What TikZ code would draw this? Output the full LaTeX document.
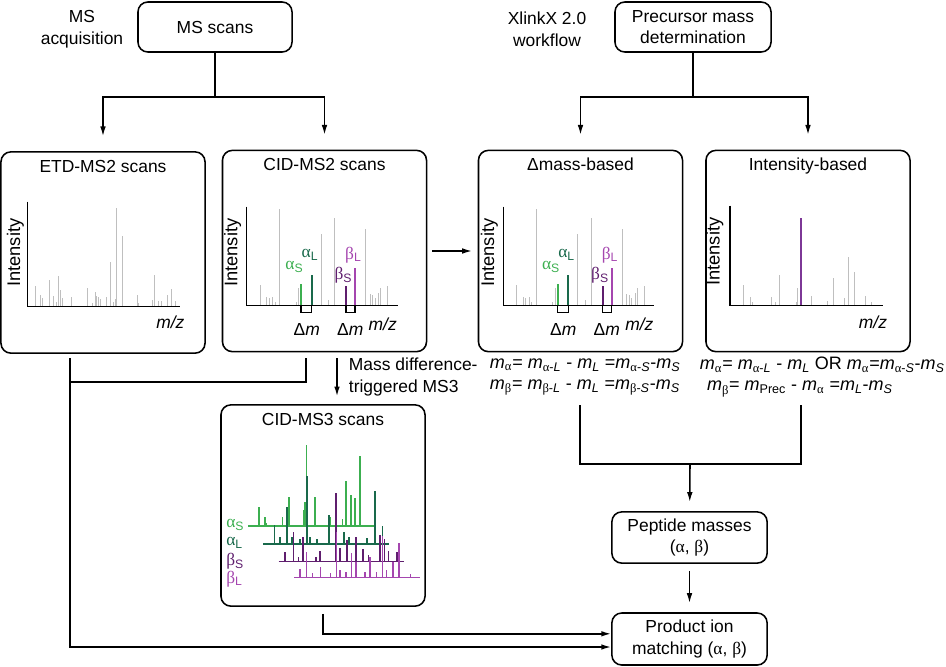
\documentclass[tikz,border=0pt]{standalone}
\usepackage{fontspec}
\setmainfont{Liberation Sans}
\newfontfamily\grk{Liberation Serif}
\usetikzlibrary{positioning,arrows.meta,calc}

\definecolor{alS}{RGB}{60,175,80}
\definecolor{alL}{RGB}{25,105,75}
\definecolor{beS}{RGB}{95,30,110}
\definecolor{beL}{RGB}{165,70,175}
\definecolor{intp}{RGB}{125,55,150}

\newcommand{\galpha}{{\grk α}}
\newcommand{\gbeta}{{\grk β}}
\newcommand{\massof}[1]{\textit{m}\textsubscript{#1}}

\tikzset{
	box/.style={rectangle,rounded corners=7pt,draw,line width=1.1pt,align=center},
	bigbox/.style={box,minimum width=5.1cm,minimum height=5.03cm},
	boxtitle/.style={inner sep=3pt},
	ylabel/.style={rotate=90,font=\fontsize{13}{15}\selectfont},
	eqtext/.style={anchor=west,align=left,font=\fontsize{12.8}{15}\selectfont},
	link/.style={line width=1.1pt},
	arr/.style={link,-{Latex[length=7pt,width=4pt]}},
	axis/.style={line width=1.1pt},
	peak/.style={gray!50,line width=0.6pt},
	cpeak/.style={line width=1.3pt},
	tpeak/.style={line width=1.2pt}
}

% spectrum shared by the CID-MS2 and the Delta-mass panels
\newcommand{\dmspectrum}[1]{%
	\foreach \x/\h in {13.3/20.7,20/9,22.3/7.3,25.7/8.3,28.3/4,32.7/96.3,49.3/4,51.7/17.3,
		74.3/71.7,81.7/5.7,87.7/87.3,119/76.3,123.3/11.7,125.7/10.7,128.3/7.3,131.7/12.3,134/17.3,141/20}
		\draw[peak] (\x,0) -- (\x,\h);
	\draw[cpeak,alS] (54.3,0) -- (54.3,21.7);
	\draw[cpeak,alL] (65,0) -- (65,30.7);
	\draw[cpeak,beS] (99.3,0) -- (99.3,20);
	\draw[cpeak,beL] (108.3,0) -- (108.3,37.3);
	\draw[axis] (0,99) -- (0,0) -- (151,0);
	\draw[line width=0.9pt] (54.3,0) -- (54.3,-7) -- (65,-7) -- (65,0);
	\draw[line width=0.9pt] (99.3,0) -- (99.3,-7) -- (108.3,-7) -- (108.3,0);
	\node[alS] (#1as) at (47.7,39) {\galpha\textsubscript{S}};
	\node[alL] (#1al) at (63.3,50.7) {\galpha\textsubscript{L}};
	\node[beS] (#1bs) at (96.7,30.7) {\gbeta\textsubscript{S}};
	\node[beL] (#1bl) at (106.7,50.7) {\gbeta\textsubscript{L}};
	\node (#1dma) at (60,-24) {Δ\textit{m}};
	\node (#1dmb) at (103.5,-24) {Δ\textit{m}};
	\node (#1mz) at (136,-19) {\textit{m/z}};
	\node[ylabel] (#1int) at (-14,53) {Intensity};
}

\begin{document}
\begin{tikzpicture}[x=0.025cm,y=-0.025cm,font=\fontsize{12.4}{15.5}\selectfont]
	\useasboundingbox (0,0) rectangle (946,666);

	% top row
	\node[align=center] (msacq) at (82,29) {MS\\acquisition};
	\node[box,minimum width=3.85cm,minimum height=1.25cm] (ms) at (215,27) {MS scans};
	\node[align=center] (xlx) at (547,29) {XlinkX 2.0\\workflow};
	\node[box,minimum width=3.9cm,minimum height=1.25cm] (prec) at (693,27) {Precursor mass\\determination};

	% panels
	\node[bigbox] (etd) at (103,252.5) {};
	\node[boxtitle,below=3pt of etd.north] (etdt) {ETD-MS2 scans};
	\node[bigbox] (cid) at (324.5,251) {};
	\node[boxtitle,below=3pt of cid.north] (cidt) {CID-MS2 scans};
	\node[bigbox] (dmass) at (580.5,251) {};
	\node[boxtitle,below=3pt of dmass.north] (dmasst) {Δmass-based};
	\node[bigbox] (intb) at (808,251) {};
	\node[boxtitle,below=3pt of intb.north] (intbt) {Intensity-based};
	\node[bigbox] (ms3) at (323,505.5) {};
	\node[boxtitle,below=3pt of ms3.north] (ms3t) {CID-MS3 scans};

	\node[box,minimum width=3.88cm,minimum height=1.28cm] (pep) at (689.5,537.5) {Peptide masses\\(\galpha, \gbeta)};
	\node[box,minimum width=3.88cm,minimum height=1.3cm] (prod) at (689.5,639) {Product ion\\matching (\galpha, \gbeta)};

	% ETD spectrum
	\begin{scope}[shift={(27.3,306.7)},y=0.025cm]
		\foreach \x/\h in {7.7/21,13.3/11.7,14.7/8.3,21.7/26.7,26/10.7,29.3/5,31.3/30.7,33.3/16.7,34.7/8.3,
			44.3/9.3,60.3/18.3,64.7/3.3,67.7/15,69.3/11,71.3/9.3,72.7/7.3,78.7/10,82.7/44.3,86/4.3,87.7/7.3,
			89.3/98.3,94.7/71,95.3/15,109.7/11.7,111/3.3,125.3/6.7,126.7/31.7,131/6,134.3/6,140.3/11.7,144.3/17.7,147.7/6}
			\draw[peak] (\x,0) -- (\x,\h);
		\draw[axis] (0,105) -- (0,0) -- (152.7,0);
		\node[ylabel] (etdint) at (-12,54) {Intensity};
		\node (etdmz) at (143,-16) {\textit{m/z}};
	\end{scope}

	% CID-MS2 and Delta-mass spectra
	\begin{scope}[shift={(246.7,305.7)},y=0.025cm]
		\dmspectrum{cid}
	\end{scope}
	\begin{scope}[shift={(503.3,305.7)},y=0.025cm]
		\dmspectrum{dm}
	\end{scope}

	% intensity-based spectrum
	\begin{scope}[shift={(730,305.7)},y=0.025cm]
		\foreach \x/\h in {13.3/20.7,20.7/9,22.7/4,41.7/9,45/4,49.3/30.7,66/4,67.7/18,81/9.7,97.7/4.7,
			103.3/27.3,114/7.3,118.7/49,124.7/33.3,135.3/10,141.7/4}
			\draw[peak] (\x,0) -- (\x,\h);
		\draw[cpeak,intp] (70.7,0) -- (70.7,88);
		\draw[axis] (0,100) -- (0,0) -- (152.7,0);
		\node[ylabel] (intint) at (-15,54) {Intensity};
		\node (intmz) at (143,-17) {\textit{m/z}};
	\end{scope}

	% MS3 spectra
	\begin{scope}[shift={(248.3,526)},y=0.025cm,alS]
		\foreach \x/\h in {11/18.7,17/8.7,18.3/3.3,34.3/9.3,41/28.7,55.7/16,57/24,58.3/81,67/28.7,82.3/9.3,
			94.3/6.7,97.7/45,102.7/31,106.7/27.7,111.7/70}
			\draw[tpeak] (\x,0) -- (\x,\h);
		\draw[axis] (0,0) -- (127.7,0);
	\end{scope}
	\begin{scope}[shift={(263.3,544)},y=0.025cm,alL]
		\foreach \x/\h in {11.3/19,16.7/7.3,24/37.3,28.7/7.3,36.7/4.7,44/68,46.7/7.3,54/4.7,66/29,73.3/10.7,
			80.7/12.3,86/7.3,93.3/7.3,104/5.7,111.7/53,116.7/6.7,119.3/18}
			\draw[tpeak] (\x,0) -- (\x,\h);
		\draw[axis] (0,0) -- (126,0);
	\end{scope}
	\begin{scope}[shift={(278.7,561.7)},y=0.025cm,beS]
		\foreach \x/\h in {6.3/9.3,14.7/29.3,19.7/4.3,24/24.3,37.3/4.3,41.3/11,57.3/68.3,61.3/13.3,68/21.7,
			77.3/25,84/12.3,89.7/6.7,101.3/26.7,105.7/22.3,109.7/11,118/10}
			\draw[tpeak] (\x,0) -- (\x,\h);
		\draw[axis] (0,0) -- (125.3,0);
	\end{scope}
	\begin{scope}[shift={(294.3,577.7)},y=0.025cm,beL]
		\foreach \x/\h in {5.7/8.3,12.3/26,18.3/4.3,26.3/11,36.3/4.3,42.3/46,45.7/7.7,51.7/6,57.3/24.3,61.7/16,
			70.7/6,75.7/21,82.3/6,88.3/41.7,92.3/7.7,99/16,105/34.3,116.3/3.7}
			\draw[tpeak] (\x,0) -- (\x,\h);
		\draw[axis] (0,0) -- (125.7,0);
	\end{scope}
	\node[alS,anchor=west,inner sep=0pt] (ms3as) at (226,525) {\galpha\textsubscript{S}};
	\node[alL,anchor=west,inner sep=0pt] (ms3al) at (226,543) {\galpha\textsubscript{L}};
	\node[beS,anchor=west,inner sep=0pt] (ms3bs) at (226,561) {\gbeta\textsubscript{S}};
	\node[beL,anchor=west,inner sep=0pt] (ms3bl) at (226,579) {\gbeta\textsubscript{L}};

	% texts under the panels
	\node[anchor=west,align=left] (mdiff) at (344,377) {Mass difference-\\triggered MS3};
	\node[eqtext] (eqa) at (485,377)
		{\massof{\galpha}= \massof{\galpha-\textit{L}} - \massof{\textit{L}} =\massof{\galpha-\textit{S}}-\massof{\textit{S}}\\
		\massof{\gbeta}= \massof{\gbeta-\textit{L}} - \massof{\textit{L}} =\massof{\gbeta-\textit{S}}-\massof{\textit{S}}};
	\node[eqtext] (eqb) at (695,377)
		{\massof{\galpha}= \massof{\galpha-\textit{L}} - \massof{\textit{L}} OR \massof{\galpha}=\massof{\galpha-\textit{S}}-\massof{\textit{S}}\\
		\hspace{5pt}\massof{\gbeta}= \massof{Prec} - \massof{\galpha} =\massof{\textit{L}}-\massof{\textit{S}}};

	% connectors
	\coordinate (msfork) at (215,97);
	\draw[link] (ms) -- (msfork);
	\draw[arr,shorten >=10.5pt] (msfork) -| (etd);
	\draw[arr,shorten >=10.5pt] (msfork) -| (cid);

	\coordinate (precfork) at (693,97);
	\draw[link] (prec) -- (precfork);
	\draw[arr,shorten >=10.5pt] (precfork) -| (dmass);
	\draw[arr,shorten >=10.5pt] (precfork) -| (intb);

	\draw[arr,shorten <=3.5pt,shorten >=4pt] (cid) -- (dmass);

	\coordinate (etdout) at (70,358);
	\coordinate (cidout) at (306,358);
	\coordinate (cidjoin) at (70,382);
	\draw[arr] (etdout) |- ([yshift=-0.2cm]prod.west);
	\draw[link] (cidout) |- (cidjoin);

	\coordinate (mdtop) at (337,358);
	\draw[arr,shorten >=5.5pt] (mdtop) -- (mdtop |- ms3.north);
	\draw[arr,shorten <=5pt] (ms3) |- ([yshift=0.13cm]prod.west);

	\coordinate (eqaout) at (580,405);
	\coordinate (eqbout) at (801,405);
	\coordinate (eqjoin) at (690,464);
	\draw[link] (eqaout) |- (eqjoin) -| (eqbout);
	\draw[arr,shorten >=6.5pt] (eqjoin) -- (pep);
	\draw[arr,shorten <=5pt,shorten >=6.5pt] (pep) -- (prod);
\end{tikzpicture}
\end{document}
